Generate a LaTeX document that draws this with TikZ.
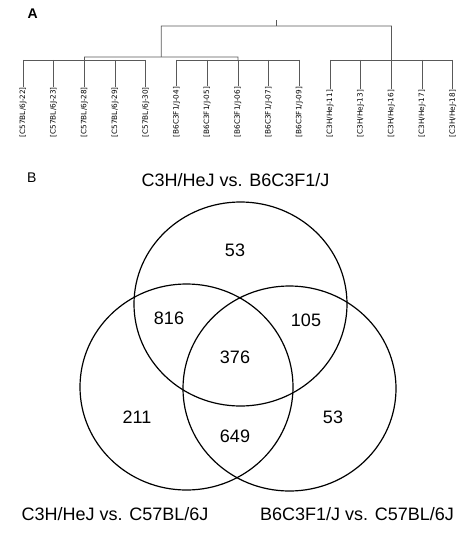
\documentclass[tikz,border=0pt]{standalone}
\usepackage{fontspec}
\setmainfont{Liberation Sans}
\newfontfamily\leaffont{DejaVu Sans}

\begin{document}
\begin{tikzpicture}
[x=1pt, y=-1pt,
 Tree/.style={draw=black!65, line width=0.8pt},
 LeafLabel/.style={rotate=90, anchor=west,
    inner sep=0.5pt, font=\leaffont\fontsize{7.3}{8}\selectfont},
 SetCircle/.style={draw=black, line width=1.2pt},
 Count/.style={font=\fontsize{18}{20}\selectfont},
 Panel/.style={anchor=base west, inner sep=0pt, font=\fontsize{14}{16}\selectfont}]
\useasboundingbox (0,0) rectangle (474,535);

% A: clustering of the samples
\node[Panel, font=\bfseries\fontsize{14}{16}\selectfont] (panel_a) at (27.5,18.5) {A};
\foreach \name [count=\i from 0] in {C57BL/6J-22, C57BL/6J-23, C57BL/6J-28, C57BL/6J-29, C57BL/6J-30,
    B6C3F1/J-04, B6C3F1/J-05, B6C3F1/J-06, B6C3F1/J-07, B6C3F1/J-09,
    C3H/HeJ-11, C3H/HeJ-13, C3H/HeJ-16, C3H/HeJ-17, C3H/HeJ-18}
{
    \node[LeafLabel] (leaf_\i) at (23+30.7*\i, 138){[\name]};
    \coordinate (top_\i) at (23+30.7*\i, 60);
    \draw[Tree] (top_\i) -- (leaf_\i.east);
}
\draw[Tree] (top_0) -- (top_4);
\draw[Tree] (top_5) -- (top_9);
\draw[Tree] (top_10) -- (top_14);
\coordinate (join_a) at (84.4,57);
\coordinate (join_b) at (237.9,57);
\coordinate (join_m) at (161.15,57);
\coordinate (root_l) at (161.15,26);
\coordinate (root_r) at (391.4,26);
\coordinate (root) at (276.3,26);
\draw[Tree] (top_2) -- (join_a) -- (join_b) -- (top_7);
\draw[Tree] (join_m) -- (root_l) -- (root_r) -- (top_12);
\draw[Tree] (root) -- ++(0,-6);

% B: overlap of the comparisons
\node[Panel] (panel_b) at (27,182.3) {B};
\draw[SetCircle] (240.5,304) ellipse [x radius=106.5pt, y radius=102pt];
\draw[SetCircle] (186.5,387) ellipse [x radius=106.5pt, y radius=103pt];
\draw[SetCircle] (289.5,388.5) ellipse [x radius=106.5pt, y radius=102.5pt];
\node[Count] (title_top) at (235.5,180) {C3H/HeJ vs. B6C3F1/J};
\node[Count] (title_left) at (115,514) {C3H/HeJ vs. C57BL/6J};
\node[Count] (title_right) at (357,514) {B6C3F1/J vs. C57BL/6J};
\node[Count] (n_top) at (235,250) {53};
\node[Count] (n_tl) at (169,318) {816};
\node[Count] (n_tr) at (306,320) {105};
\node[Count] (n_mid) at (235,357) {376};
\node[Count] (n_left) at (137,417) {211};
\node[Count] (n_bot) at (235,436) {649};
\node[Count] (n_right) at (333,417) {53};
\end{tikzpicture}
\end{document}
